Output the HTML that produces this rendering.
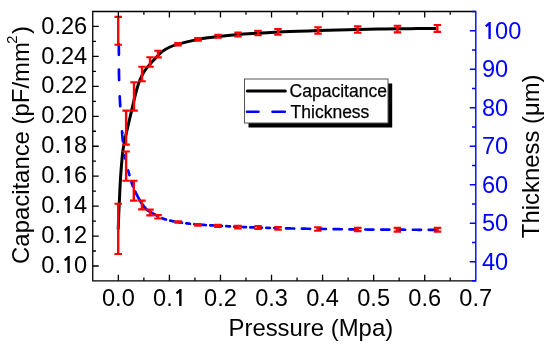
<!DOCTYPE html><html><head><meta charset="utf-8"><style>html,body{margin:0;padding:0;background:#fff;}svg{display:block;}</style></head><body>
<svg width="550" height="348" viewBox="0 0 550 348" font-family='"Liberation Sans", Arial, sans-serif'>
<rect x="0" y="0" width="550" height="348" fill="#fff"/>
<path d="M118.20,229.50 C118.33,225.67 118.44,221.95 118.60,218.00 C118.77,213.80 119.00,209.33 119.20,205.00 C119.40,200.67 119.60,196.25 119.80,192.00 C120.00,187.92 120.14,184.22 120.40,180.00 C120.69,175.28 121.07,170.00 121.50,165.00 C121.93,160.00 122.27,154.98 123.00,150.00 C123.73,144.98 124.84,139.99 125.90,135.00 C126.97,129.99 128.23,125.00 129.40,120.00 C130.57,115.00 131.70,110.00 132.90,105.00 C134.10,100.00 135.34,94.41 136.60,90.00 C137.61,86.45 138.42,83.60 139.70,80.50 C141.01,77.33 142.60,74.00 144.40,71.20 C146.07,68.61 148.07,66.45 150.00,64.20 C151.90,61.98 153.90,59.90 155.90,57.80 C157.90,55.70 159.69,53.38 162.00,51.60 C164.38,49.76 167.27,48.25 170.00,47.00 C172.61,45.80 175.17,45.06 178.00,44.20 C181.13,43.25 184.66,42.40 188.00,41.60 C191.33,40.80 194.66,40.03 198.00,39.40 C201.32,38.77 204.66,38.28 208.00,37.80 C211.33,37.32 214.66,36.90 218.00,36.50 C221.33,36.10 224.67,35.73 228.00,35.40 C231.33,35.07 234.09,34.80 238.00,34.50 C243.52,34.07 251.33,33.62 258.00,33.20 C264.67,32.78 271.33,32.33 278.00,32.00 C284.67,31.67 291.33,31.43 298.00,31.20 C304.67,30.97 311.33,30.80 318.00,30.60 C324.67,30.40 331.33,30.18 338.00,30.00 C344.67,29.82 351.33,29.65 358.00,29.50 C364.67,29.35 371.33,29.22 378.00,29.10 C384.67,28.98 391.42,28.88 398.00,28.80 C404.41,28.72 410.67,28.65 417.00,28.60 C423.33,28.55 429.67,28.53 436.00,28.50" fill="none" stroke="#000" stroke-width="3" stroke-linejoin="round"/>
<path d="M118.79,44.20 L118.79,44.28 L118.79,44.52 L118.80,44.76 L118.80,45.00 L118.80,45.25 L118.81,45.49 L118.81,45.74 L118.82,45.99 L118.82,46.24 L118.82,46.48 L118.83,46.73 L118.83,46.98 L118.83,47.23 L118.83,47.48 L118.84,47.72 L118.84,47.97 L118.84,48.22 L118.84,48.47 L118.85,48.72 L118.85,48.97 L118.85,49.22 L118.85,49.47 L118.85,49.72 L118.86,49.97 L118.86,50.22 L118.86,50.47 L118.86,50.72 L118.86,50.97 L118.86,51.22 L118.87,51.47 L118.87,51.72 L118.87,51.97 L118.87,52.22 L118.87,52.47 L118.87,52.73 L118.87,52.98 L118.87,53.23 L118.87,53.48 L118.87,53.73 L118.88,53.98 L118.88,54.23 L118.88,54.48 L118.88,54.73 L118.88,54.80 M118.94,69.60 L118.94,69.83 L118.94,70.08 L118.94,70.33 L118.94,70.58 L118.95,70.83 L118.95,71.08 L118.95,71.33 L118.95,71.57 L118.96,71.82 L118.96,72.07 L118.96,72.32 L118.96,72.56 L118.97,72.81 L118.97,73.05 L118.97,73.30 L118.98,73.54 L118.98,73.79 L118.98,74.03 L118.99,74.27 L118.99,74.52 L119.00,74.76 L119.00,75.00 L119.00,75.22 L119.01,75.45 L119.01,75.67 L119.02,75.89 L119.02,76.12 L119.03,76.34 L119.03,76.56 L119.04,76.78 L119.04,77.01 L119.05,77.23 L119.05,77.45 L119.06,77.67 L119.06,77.89 L119.07,78.11 L119.08,78.33 L119.08,78.55 L119.09,78.77 L119.09,78.99 L119.10,79.20 L119.11,79.42 L119.11,79.64 L119.12,79.86 L119.13,80.08 L119.13,80.10 M119.73,96.40 L119.73,96.42 L119.74,96.61 L119.75,96.81 L119.76,97.01 L119.77,97.21 L119.78,97.41 L119.79,97.61 L119.79,97.81 L119.80,98.01 L119.81,98.20 L119.82,98.40 L119.83,98.60 L119.84,98.80 L119.85,99.00 L119.86,99.20 L119.87,99.40 L119.88,99.60 L119.89,99.80 L119.90,100.00 L119.91,100.20 L119.92,100.40 L119.93,100.60 L119.94,100.80 L119.95,101.00 L119.96,101.20 L119.97,101.40 L119.98,101.60 L119.99,101.80 L120.00,101.99 L120.01,102.19 L120.02,102.39 L120.03,102.59 L120.04,102.79 L120.05,102.99 L120.07,103.19 L120.08,103.39 L120.09,103.59 L120.10,103.78 L120.11,103.98 L120.12,104.18 L120.13,104.38 L120.14,104.58 L120.15,104.78 L120.16,104.98 L120.18,105.18 L120.19,105.37 L120.20,105.57 L120.21,105.77 L120.22,105.97 L120.23,106.17 L120.24,106.20 M122.05,131.30 L122.05,131.32 L122.06,131.50 L122.07,131.68 L122.09,131.86 L122.10,132.04 L122.11,132.23 L122.13,132.41 L122.14,132.59 L122.15,132.77 L122.17,132.95 L122.18,133.13 L122.19,133.31 L122.21,133.49 L122.22,133.67 L122.23,133.85 L122.25,134.03 L122.26,134.21 L122.27,134.39 L122.29,134.57 L122.30,134.75 L122.31,134.93 L122.33,135.10 L122.34,135.28 L122.36,135.46 L122.37,135.64 L122.39,135.82 L122.40,136.00 L122.41,136.17 L122.43,136.34 L122.44,136.51 L122.46,136.68 L122.47,136.85 L122.48,137.02 L122.50,137.19 L122.51,137.36 L122.53,137.53 L122.54,137.70 L122.55,137.87 L122.57,138.04 L122.58,138.21 L122.60,138.38 L122.61,138.55 L122.63,138.72 L122.64,138.88 L122.66,139.05 L122.67,139.22 L122.68,139.39 L122.70,139.56 L122.71,139.73 L122.73,139.89 L122.74,140.06 L122.76,140.23 L122.77,140.40 L122.79,140.56 L122.80,140.73 L122.82,140.90 L122.83,141.06 L122.85,141.23 L122.85,141.30 M124.30,154.99 L124.30,155.00 L124.32,155.14 L124.34,155.28 L124.37,155.41 L124.39,155.55 L124.41,155.69 L124.43,155.83 L124.45,155.96 L124.48,156.10 L124.50,156.24 L124.52,156.37 L124.55,156.51 L124.57,156.65 L124.60,156.79 L124.62,156.92 L124.64,157.06 L124.67,157.19 L124.69,157.33 L124.72,157.47 L124.74,157.60 L124.77,157.74 L124.79,157.88 L124.82,158.01 L124.84,158.15 L124.87,158.28 L124.88,158.32 M128.08,170.45 L128.09,170.48 L128.12,170.61 L128.16,170.73 L128.20,170.86 L128.23,170.98 L128.27,171.11 L128.31,171.23 L128.35,171.36 L128.38,171.49 L128.42,171.61 L128.46,171.74 L128.49,171.87 L128.53,172.00 L128.57,172.12 L128.61,172.25 L128.64,172.38 L128.68,172.51 L128.72,172.64 L128.76,172.76 L128.79,172.89 L128.83,173.02 L128.87,173.15 L128.91,173.28 L128.95,173.40 L128.98,173.53 L129.02,173.66 L129.06,173.79 L129.10,173.92 L129.13,174.04 L129.17,174.17 L129.21,174.30 L129.24,174.42 L129.28,174.55 L129.32,174.68 L129.36,174.80 L129.39,174.93 L129.43,175.05 M131.38,181.75 L131.38,181.76 L131.41,181.86 L131.44,181.95 L131.47,182.04 L131.50,182.14 L131.52,182.23 L131.55,182.33 L131.58,182.42 L131.61,182.52 L131.64,182.61 L131.67,182.71 L131.70,182.80 L131.73,182.89 L131.76,182.98 L131.79,183.08 L131.81,183.17 L131.84,183.26 L131.87,183.35 L131.90,183.44 L131.93,183.54 L131.96,183.63 L131.98,183.72 L132.01,183.81 L132.04,183.91 L132.07,184.00 L132.10,184.09 L132.13,184.18 L132.15,184.27 L132.18,184.37 L132.21,184.46 L132.24,184.55 L132.27,184.64 L132.30,184.73 L132.32,184.83 L132.35,184.92 L132.38,185.01 L132.41,185.10 L132.44,185.19 L132.47,185.28 L132.50,185.38 L132.53,185.47 L132.55,185.56 L132.58,185.65 L132.61,185.74 L132.64,185.83 L132.67,185.92 L132.70,186.01 L132.73,186.10 L132.76,186.19 L132.79,186.28 L132.82,186.37 M135.10,191.46 L135.12,191.48 L135.16,191.56 L135.19,191.63 L135.23,191.70 L135.27,191.78 L135.31,191.85 L135.35,191.92 L135.39,192.00 L135.43,192.07 L135.47,192.15 L135.50,192.22 L135.54,192.30 L135.58,192.37 L135.62,192.45 L135.66,192.52 L135.70,192.60 L135.74,192.69 L135.79,192.77 L135.83,192.86 L135.88,192.95 L135.92,193.03 L135.97,193.12 L136.01,193.21 L136.06,193.30 L136.10,193.39 L136.15,193.48 L136.20,193.57 L136.24,193.66 L136.29,193.76 L136.34,193.85 L136.38,193.94 L136.43,194.03 L136.48,194.12 L136.53,194.22 L136.57,194.31 L136.62,194.40 L136.67,194.50 L136.72,194.59 L136.76,194.68 L136.81,194.78 L136.86,194.87 L136.91,194.96 L136.96,195.06 L137.01,195.15 L137.05,195.24 L137.10,195.34 L137.15,195.43 L137.20,195.52 L137.25,195.62 L137.30,195.71 L137.34,195.80 L137.39,195.90 L137.44,195.99 L137.49,196.08 L137.54,196.17 L137.58,196.26 L137.63,196.35 L137.68,196.45 L137.73,196.54 L137.77,196.63 L137.82,196.72 L137.87,196.81 L137.91,196.89 L137.96,196.98 L138.01,197.07 L138.05,197.16 L138.10,197.25 L138.14,197.33 L138.19,197.42 L138.23,197.50 L138.28,197.59 L138.32,197.67 L138.37,197.75 L138.41,197.84 L138.46,197.92 L138.50,198.00 L138.54,198.07 L138.57,198.13 L138.61,198.20 L138.64,198.26 L138.68,198.33 L138.71,198.39 L138.74,198.46 L138.78,198.52 L138.81,198.59 L138.85,198.65 L138.88,198.71 L138.91,198.78 L138.95,198.84 L138.98,198.90 L139.01,198.97 L139.05,199.03 L139.08,199.09 L139.11,199.15 L139.15,199.22 L139.18,199.28 L139.21,199.34 L139.25,199.40 L139.28,199.46 L139.31,199.52 L139.34,199.58 L139.38,199.64 L139.41,199.70 L139.44,199.76 L139.47,199.82 L139.50,199.88 L139.54,199.94 L139.57,200.00 L139.60,200.06 L139.63,200.12 L139.67,200.18 L139.70,200.24 L139.73,200.30 L139.76,200.35 L139.80,200.41 L139.83,200.47 L139.86,200.53 L139.89,200.59 L139.93,200.64 L139.96,200.70 L139.99,200.76 L140.03,200.81 L140.06,200.87 L140.09,200.93 L140.13,200.98 L140.16,201.04 L140.19,201.10 L140.23,201.15 L140.26,201.21 L140.29,201.27 L140.33,201.32 L140.36,201.38 L140.40,201.43 L140.43,201.49 L140.47,201.54 L140.50,201.60 L140.53,201.65 L140.56,201.70 L140.60,201.75 L140.63,201.80 L140.66,201.85 L140.69,201.90 L140.73,201.95 L140.76,202.00 L140.79,202.05 L140.82,202.10 L140.86,202.14 L140.89,202.19 L140.92,202.24 L140.95,202.29 L140.99,202.34 L141.02,202.38 L141.05,202.43 L141.09,202.48 L141.12,202.53 L141.15,202.57 L141.19,202.62 L141.22,202.67 L141.25,202.71 L141.29,202.76 L141.32,202.81 L141.35,202.85 L141.39,202.90 L141.42,202.95 L141.45,202.99 L141.49,203.04 L141.52,203.08 L141.55,203.13 L141.59,203.18 L141.62,203.22 L141.65,203.27 L141.69,203.31 L141.72,203.36 L141.76,203.40 L141.79,203.45 L141.82,203.49 L141.86,203.54 L141.89,203.58 L141.93,203.63 L141.96,203.68 L141.99,203.72 L142.03,203.77 L142.06,203.81 L142.09,203.86 L142.13,203.90 L142.16,203.95 L142.20,203.99 L142.23,204.04 L142.26,204.08 L142.30,204.13 L142.33,204.17 L142.36,204.22 L142.40,204.26 L142.43,204.31 L142.47,204.35 L142.50,204.40 L142.53,204.44 L142.57,204.49 L142.60,204.53 L142.63,204.58 L142.66,204.62 L142.70,204.67 L142.73,204.71 L142.76,204.75 L142.79,204.80 L142.83,204.84 L142.86,204.88 L142.89,204.93 L142.92,204.97 L142.96,205.02 L142.99,205.06 L143.02,205.10 L143.05,205.15 L143.09,205.19 L143.12,205.23 L143.15,205.28 L143.18,205.32 L143.22,205.36 L143.25,205.41 L143.28,205.45 L143.31,205.49 L143.35,205.53 L143.38,205.58 L143.41,205.62 L143.44,205.66 L143.48,205.71 L143.51,205.75 L143.54,205.79 L143.58,205.84 L143.61,205.88 L143.64,205.92 L143.67,205.97 L143.71,206.01 L143.74,206.05 L143.77,206.09 L143.81,206.14 L143.84,206.18 L143.87,206.22 L143.91,206.27 L143.94,206.31 L143.98,206.35 L144.01,206.39 L144.04,206.44 L144.08,206.48 L144.11,206.52 L144.15,206.57 L144.18,206.61 L144.22,206.65 L144.25,206.70 L144.29,206.74 L144.32,206.78 L144.36,206.83 L144.39,206.87 L144.43,206.91 L144.46,206.96 L144.50,207.00 L144.54,207.05 L144.58,207.09 L144.62,207.14 L144.65,207.19 L144.69,207.23 L144.73,207.28 L144.77,207.33 L144.81,207.38 L144.85,207.43 L144.89,207.47 L144.93,207.52 L144.97,207.57 L145.01,207.62 L145.05,207.67 L145.08,207.71 L145.12,207.76 L145.16,207.81 L145.20,207.86 L145.24,207.91 L145.28,207.96 L145.32,208.01 L145.36,208.05 L145.40,208.10 L145.44,208.15 L145.48,208.20 L145.53,208.25 L145.57,208.30 L145.61,208.35 L145.65,208.39 L145.69,208.44 L145.73,208.49 L145.77,208.54 L145.81,208.59 L145.85,208.63 L145.90,208.68 L145.94,208.73 L145.98,208.78 L146.02,208.82 L146.07,208.87 L146.11,208.92 L146.15,208.96 L146.19,209.01 L146.24,209.06 L146.28,209.10 L146.32,209.15 L146.37,209.19 L146.41,209.24 L146.46,209.28 L146.50,209.33 L146.54,209.37 L146.59,209.42 L146.63,209.46 L146.68,209.50 L146.72,209.55 L146.77,209.59 L146.82,209.63 L146.86,209.68 L146.91,209.72 L146.95,209.76 L147.00,209.80 L147.05,209.84 L147.09,209.88 L147.14,209.92 L147.19,209.96 L147.24,210.00 L147.28,210.04 L147.33,210.08 L147.38,210.12 L147.43,210.15 L147.48,210.19 L147.53,210.23 L147.57,210.27 L147.62,210.30 L147.67,210.34 L147.72,210.38 L147.77,210.41 L147.82,210.45 L147.87,210.49 L147.92,210.52 L147.97,210.56 L148.02,210.59 L148.07,210.63 L148.12,210.66 L148.17,210.70 L148.23,210.73 L148.28,210.77 L148.33,210.80 L148.38,210.84 L148.43,210.87 L148.48,210.90 L148.54,210.94 L148.59,210.97 L148.64,211.00 L148.69,211.04 L148.74,211.07 L148.80,211.11 L148.85,211.14 L148.90,211.17 L148.96,211.20 L149.01,211.24 L149.06,211.27 L149.12,211.30 L149.17,211.34 L149.22,211.37 L149.28,211.40 L149.33,211.44 L149.39,211.47 L149.44,211.50 L149.49,211.53 L149.55,211.57 L149.60,211.60 L149.66,211.63 L149.71,211.67 L149.77,211.70 L149.82,211.73 L149.88,211.77 L149.93,211.80 L149.99,211.83 L150.04,211.87 L150.10,211.90 L150.16,211.94 L150.22,211.97 L150.28,212.01 L150.34,212.05 L150.41,212.08 L150.47,212.12 L150.53,212.15 L150.59,212.19 L150.65,212.22 L150.72,212.26 L150.78,212.30 L150.84,212.33 L150.91,212.37 L150.97,212.40 L151.03,212.44 L151.10,212.47 L151.16,212.51 L151.23,212.54 L151.29,212.58 L151.36,212.61 L151.42,212.65 L151.49,212.68 L151.55,212.72 L151.62,212.75 L151.68,212.79 L151.75,212.82 L151.81,212.86 L151.88,212.89 L151.94,212.92 L152.01,212.96 L152.08,212.99 L152.14,213.03 L152.21,213.06 L152.27,213.10 L152.34,213.13 L152.41,213.17 L152.47,213.20 L152.54,213.23 L152.61,213.27 L152.67,213.30 L152.74,213.34 L152.81,213.37 L152.87,213.41 L152.94,213.44 L153.01,213.48 L153.07,213.51 L153.14,213.55 L153.20,213.58 L153.27,213.61 L153.34,213.65 L153.40,213.68 L153.47,213.72 L153.54,213.75 L153.60,213.79 L153.67,213.82 L153.74,213.86 L153.80,213.89 L153.87,213.93 L153.93,213.96 L154.00,214.00 L154.07,214.04 L154.13,214.07 L154.20,214.11 L154.27,214.15 L154.34,214.18 L154.40,214.22 L154.47,214.25 L154.54,214.29 L154.61,214.33 L154.67,214.36 L154.74,214.40 L154.81,214.44 L154.87,214.47 L154.94,214.51 L155.01,214.55 L155.08,214.58 L155.14,214.62 L155.21,214.66 L155.28,214.69 L155.34,214.73 L155.41,214.77 L155.48,214.80 L155.55,214.84 L155.61,214.88 L155.68,214.91 L155.75,214.95 L155.82,214.99 L155.88,215.02 L155.95,215.06 L156.02,215.10 L156.09,215.13 L156.15,215.17 L156.22,215.21 L156.29,215.24 L156.36,215.28 L156.43,215.32 L156.49,215.35 L156.56,215.39 L156.63,215.43 L156.70,215.46 L156.77,215.50 L156.84,215.54 L156.91,215.57 L156.97,215.61 L157.04,215.65 L157.11,215.68 L157.18,215.72 L157.23,215.75 M162.19,218.26 L162.25,218.29 L162.33,218.32 L162.42,218.36 L162.50,218.40 L162.58,218.43 L162.67,218.47 L162.75,218.50 L162.83,218.53 L162.92,218.57 L163.00,218.60 L163.08,218.63 L163.16,218.66 L163.24,218.69 L163.32,218.72 L163.40,218.75 L163.48,218.78 L163.56,218.81 L163.64,218.84 L163.72,218.87 L163.80,218.90 L163.88,218.93 L163.96,218.95 L164.04,218.98 L164.12,219.01 L164.19,219.04 L164.27,219.06 L164.35,219.09 L164.43,219.11 L164.51,219.14 L164.58,219.16 L164.66,219.19 L164.74,219.21 L164.82,219.24 L164.90,219.26 L164.98,219.29 L165.06,219.31 L165.14,219.34 L165.22,219.36 L165.29,219.38 L165.37,219.41 L165.46,219.43 L165.54,219.45 L165.62,219.48 L165.70,219.50 L165.78,219.52 L165.86,219.54 L165.94,219.57 M170.27,220.63 L170.41,220.66 L170.58,220.69 L170.74,220.73 L170.91,220.76 L171.07,220.80 L171.24,220.83 L171.41,220.87 L171.58,220.90 L171.74,220.94 L171.92,220.97 L172.09,221.01 L172.26,221.04 L172.43,221.08 L172.60,221.11 L172.78,221.14 L172.95,221.18 L173.13,221.21 L173.30,221.25 L173.48,221.28 L173.65,221.31 L173.83,221.35 L173.92,221.37 M178.28,222.15 L178.33,222.16 L178.50,222.18 L178.67,222.21 L178.83,222.24 L179.00,222.27 L179.16,222.29 L179.33,222.32 L179.50,222.35 L179.66,222.37 L179.83,222.40 L180.00,222.42 L180.16,222.45 L180.33,222.48 L180.50,222.50 L180.66,222.53 L180.83,222.55 L181.00,222.58 L181.16,222.60 L181.33,222.63 L181.50,222.65 L181.66,222.67 L181.83,222.70 L181.91,222.71 M186.29,223.29 L186.33,223.30 L186.50,223.32 L186.67,223.34 L186.83,223.36 L187.00,223.38 L187.17,223.40 L187.33,223.42 L187.50,223.44 L187.67,223.46 L187.83,223.48 L188.00,223.50 L188.17,223.52 L188.33,223.54 L188.50,223.56 L188.67,223.58 L188.83,223.60 L189.00,223.62 L189.17,223.64 L189.33,223.66 L189.50,223.67 L189.67,223.69 L189.83,223.71 L189.91,223.72 M194.29,224.17 L194.33,224.17 L194.50,224.19 L194.66,224.20 L194.83,224.22 L195.00,224.23 L195.17,224.25 L195.33,224.27 L195.50,224.28 L195.67,224.30 L195.83,224.31 L196.00,224.33 L196.17,224.34 L196.33,224.36 L196.50,224.37 L196.67,224.38 L196.83,224.40 L197.00,224.41 L197.17,224.43 L197.33,224.44 L197.50,224.46 L197.67,224.47 L197.83,224.49 L197.90,224.49 M202.30,224.83 L202.33,224.83 L202.50,224.85 L202.67,224.86 L202.83,224.87 L203.00,224.88 L203.17,224.89 L203.33,224.90 L203.50,224.92 L203.67,224.93 L203.83,224.94 L204.00,224.95 L204.17,224.96 L204.33,224.97 L204.50,224.98 L204.67,224.99 L204.83,225.00 L205.00,225.01 L205.17,225.02 L205.33,225.04 L205.50,225.05 L205.67,225.06 L205.83,225.07 L205.90,225.07 M210.30,225.33 L210.42,225.33 L210.58,225.34 L210.73,225.35 L210.89,225.36 L211.05,225.37 L211.21,225.37 L211.36,225.38 L211.52,225.39 L211.68,225.40 L211.83,225.40 L211.99,225.41 L212.15,225.42 L212.31,225.43 L212.47,225.43 L212.63,225.44 L212.79,225.45 L212.95,225.46 L213.11,225.46 L213.27,225.47 L213.43,225.48 L213.59,225.49 L213.75,225.49 L213.90,225.50 M218.30,225.72 L218.56,225.73 L218.85,225.74 L219.13,225.76 L219.43,225.78 L219.72,225.79 L220.02,225.81 L220.32,225.83 L220.63,225.84 L220.94,225.86 L221.25,225.88 L221.56,225.90 L221.88,225.91 L221.90,225.91 M226.30,226.17 L226.53,226.18 L226.88,226.20 L227.22,226.22 L227.57,226.24 L227.92,226.26 L228.27,226.28 L228.62,226.30 L228.97,226.32 L229.32,226.34 L229.67,226.36 L229.90,226.37 M234.30,226.61 L234.59,226.63 L234.93,226.65 L235.28,226.66 L235.63,226.68 L235.97,226.70 L236.31,226.72 L236.65,226.73 L236.99,226.75 L237.33,226.77 L237.67,226.78 L237.90,226.80 M242.30,227.00 L242.33,227.00 L242.67,227.01 L243.00,227.03 L243.33,227.04 L243.67,227.05 L244.00,227.07 L244.33,227.08 L244.67,227.10 L245.00,227.11 L245.33,227.12 L245.67,227.14 L245.90,227.15 M250.30,227.32 L250.33,227.32 L250.67,227.33 L251.00,227.35 L251.33,227.36 L251.67,227.37 L252.00,227.38 L252.33,227.40 L252.67,227.41 L253.00,227.42 L253.33,227.43 L253.67,227.45 L253.90,227.45 M258.30,227.61 L258.33,227.61 L258.67,227.62 L259.00,227.63 L259.33,227.65 L259.67,227.66 L260.00,227.67 L260.33,227.68 L260.67,227.69 L261.00,227.70 L261.33,227.71 L261.67,227.72 L261.90,227.73 M266.30,227.87 L266.33,227.87 L266.67,227.88 L267.00,227.89 L267.33,227.90 L267.67,227.91 L268.00,227.92 L268.33,227.93 L268.67,227.94 L269.00,227.95 L269.33,227.96 L269.67,227.97 L269.90,227.98 M274.30,228.10 L274.33,228.10 L274.67,228.11 L275.00,228.12 L275.33,228.13 L275.67,228.14 L276.00,228.15 L276.33,228.16 L276.67,228.17 L277.00,228.17 L277.33,228.18 L277.67,228.19 L277.90,228.20 M286.10,228.38 L286.33,228.39 L286.67,228.39 L287.00,228.40 L287.33,228.41 L287.67,228.41 L288.00,228.42 L288.33,228.43 L288.67,228.43 L289.00,228.44 L289.33,228.44 L289.67,228.45 L290.00,228.46 L290.33,228.46 L290.67,228.47 L291.00,228.48 L291.33,228.48 L291.67,228.49 L292.00,228.49 L292.33,228.50 L292.67,228.51 L293.00,228.51 L293.33,228.52 L293.67,228.52 L294.00,228.53 L294.20,228.53 M301.95,228.67 L302.00,228.67 L302.33,228.67 L302.67,228.68 L303.00,228.68 L303.33,228.69 L303.67,228.69 L304.00,228.70 L304.33,228.70 L304.67,228.71 L305.00,228.71 L305.33,228.72 L305.67,228.72 L306.00,228.73 L306.33,228.73 L306.67,228.74 L307.00,228.74 L307.33,228.75 L307.67,228.75 L308.00,228.76 L308.33,228.76 L308.67,228.77 L309.00,228.77 L309.33,228.78 L309.67,228.78 L310.00,228.78 L310.05,228.79 M317.80,228.90 L318.00,228.90 L318.33,228.91 L318.67,228.91 L319.00,228.92 L319.33,228.92 L319.67,228.93 L320.00,228.93 L320.33,228.94 L320.67,228.94 L321.00,228.95 L321.33,228.95 L321.67,228.96 L322.00,228.96 L322.33,228.97 L322.67,228.97 L323.00,228.98 L323.33,228.98 L323.67,228.99 L324.00,228.99 L324.33,229.00 L324.67,229.00 L325.00,229.01 L325.33,229.01 L325.67,229.02 L325.90,229.02 M333.65,229.14 L333.67,229.14 L334.00,229.14 L334.33,229.15 L334.67,229.15 L335.00,229.16 L335.33,229.16 L335.67,229.17 L336.00,229.17 L336.33,229.18 L336.67,229.18 L337.00,229.19 L337.33,229.19 L337.67,229.20 L338.00,229.20 L338.33,229.20 L338.67,229.21 L339.00,229.21 L339.33,229.22 L339.67,229.22 L340.00,229.23 L340.33,229.23 L340.67,229.24 L341.00,229.24 L341.33,229.25 L341.67,229.25 L341.75,229.25 M349.50,229.35 L349.67,229.36 L350.00,229.36 L350.33,229.36 L350.67,229.37 L351.00,229.37 L351.33,229.38 L351.67,229.38 L352.00,229.38 L352.33,229.39 L352.67,229.39 L353.00,229.40 L353.33,229.40 L353.67,229.40 L354.00,229.41 L354.33,229.41 L354.67,229.41 L355.00,229.42 L355.33,229.42 L355.67,229.43 L356.00,229.43 L356.33,229.43 L356.67,229.44 L357.00,229.44 L357.33,229.44 L357.60,229.45 M365.35,229.51 L365.67,229.52 L366.00,229.52 L366.33,229.52 L366.67,229.52 L367.00,229.53 L367.33,229.53 L367.67,229.53 L368.00,229.53 L368.33,229.54 L368.67,229.54 L369.00,229.54 L369.33,229.54 L369.67,229.55 L370.00,229.55 L370.33,229.55 L370.67,229.55 L371.00,229.56 L371.33,229.56 L371.67,229.56 L372.00,229.56 L372.33,229.56 L372.67,229.57 L373.00,229.57 L373.33,229.57 L373.45,229.57 M381.20,229.62 L381.26,229.62 L381.57,229.62 L381.89,229.62 L382.21,229.62 L382.53,229.63 L382.84,229.63 L383.16,229.63 L383.47,229.63 L383.79,229.63 L384.10,229.64 L384.42,229.64 L384.73,229.64 L385.05,229.64 L385.36,229.64 L385.68,229.64 L385.99,229.64 L386.31,229.65 L386.62,229.65 L386.94,229.65 L387.26,229.65 L387.58,229.65 L387.90,229.65 L388.22,229.66 L388.54,229.66 L388.86,229.66 L389.19,229.66 L389.30,229.66 M397.05,229.70 L397.23,229.70 L397.61,229.70 L398.00,229.70 L398.55,229.70 L399.11,229.70 L399.67,229.71 L400.25,229.71 L400.83,229.71 L401.41,229.71 L402.00,229.72 L402.60,229.72 L403.20,229.72 L403.81,229.72 L404.43,229.73 L405.05,229.73 L405.15,229.73 M412.90,229.76 L413.51,229.76 L414.19,229.76 L414.87,229.77 L415.55,229.77 L416.23,229.77 L416.92,229.77 L417.60,229.78 L418.29,229.78 L418.98,229.78 L419.68,229.78 L420.37,229.79 L421.00,229.79 M428.75,229.82 L429.39,229.82 L430.08,229.82 L430.76,229.82 L431.45,229.83 L432.13,229.83 L432.81,229.83 L433.49,229.83 L434.17,229.84 L434.84,229.84 L435.51,229.84 L436.18,229.84 L436.30,229.85" fill="none" stroke="#0000ff" stroke-width="2.7" stroke-linecap="round" stroke-linejoin="round"/>
<path d="M118.20,203.80V254.00M126.10,110.60V144.60M134.00,82.30V110.60M142.00,66.80V81.20M150.00,57.20V66.80M158.00,50.80V57.40M178.00,43.10V45.40M198.00,38.00V40.60M218.05,34.90V37.80M238.00,32.60V36.35M258.00,30.90V35.20M277.95,29.00V34.70M318.00,27.30V33.60M357.65,26.35V32.70M397.50,25.75V32.35M437.35,25.00V31.90M118.20,16.90V44.70M126.10,151.50V180.80M133.80,180.80V200.60M141.90,200.60V209.40M150.00,209.60V215.40M158.00,215.10V218.50M178.10,221.30V222.80M198.00,224.10V225.80M218.00,224.90V226.90M237.95,225.90V228.50M258.05,226.00V228.90M278.05,227.00V229.60M317.80,227.30V230.80M357.80,227.90V231.10M397.40,227.90V231.60M437.50,227.90V231.60" stroke="#ff0000" stroke-width="2.4"/>
<path d="M114.45,203.80H121.95M114.45,254.00H121.95M122.35,110.60H129.85M122.35,144.60H129.85M130.25,82.30H137.75M130.25,110.60H137.75M138.25,66.80H145.75M138.25,81.20H145.75M146.25,57.20H153.75M146.25,66.80H153.75M154.25,50.80H161.75M154.25,57.40H161.75M174.25,43.10H181.75M174.25,45.40H181.75M194.25,38.00H201.75M194.25,40.60H201.75M214.30,34.90H221.80M214.30,37.80H221.80M234.25,32.60H241.75M234.25,36.35H241.75M254.25,30.90H261.75M254.25,35.20H261.75M274.20,29.00H281.70M274.20,34.70H281.70M314.25,27.30H321.75M314.25,33.60H321.75M353.90,26.35H361.40M353.90,32.70H361.40M393.75,25.75H401.25M393.75,32.35H401.25M433.60,25.00H441.10M433.60,31.90H441.10M114.45,16.90H121.95M114.45,44.70H121.95M122.35,151.50H129.85M122.35,180.80H129.85M130.05,180.80H137.55M130.05,200.60H137.55M138.15,200.60H145.65M138.15,209.40H145.65M146.25,209.60H153.75M146.25,215.40H153.75M154.25,215.10H161.75M154.25,218.50H161.75M174.35,221.30H181.85M174.35,222.80H181.85M194.25,224.10H201.75M194.25,225.80H201.75M214.25,224.90H221.75M214.25,226.90H221.75M234.20,225.90H241.70M234.20,228.50H241.70M254.30,226.00H261.80M254.30,228.90H261.80M274.30,227.00H281.80M274.30,229.60H281.80M314.05,227.30H321.55M314.05,230.80H321.55M354.05,227.90H361.55M354.05,231.10H361.55M393.65,227.90H401.15M393.65,231.60H401.15M433.75,227.90H441.25M433.75,231.60H441.25" stroke="#ff0000" stroke-width="2.1"/>
<path d="M475.80,11.50H92.75V280.80H475.80" fill="none" stroke="#000" stroke-width="1.3"/>
<path d="M475.80,10.90V281.40" fill="none" stroke="#0000ff" stroke-width="1.4"/>
<path d="M118.35,280.80V274.80M118.35,11.50V17.50M143.88,280.80V277.60M143.88,11.50V14.70M169.41,280.80V274.80M169.41,11.50V17.50M194.94,280.80V277.60M194.94,11.50V14.70M220.47,280.80V274.80M220.47,11.50V17.50M246.00,280.80V277.60M246.00,11.50V14.70M271.53,280.80V274.80M271.53,11.50V17.50M297.06,280.80V277.60M297.06,11.50V14.70M322.59,280.80V274.80M322.59,11.50V17.50M348.12,280.80V277.60M348.12,11.50V14.70M373.65,280.80V274.80M373.65,11.50V17.50M399.18,280.80V277.60M399.18,11.50V14.70M424.71,280.80V274.80M424.71,11.50V17.50M450.24,280.80V277.60M450.24,11.50V14.70M92.75,265.99H98.75M92.75,251.02H95.95M92.75,236.05H98.75M92.75,221.08H95.95M92.75,206.11H98.75M92.75,191.14H95.95M92.75,176.17H98.75M92.75,161.20H95.95M92.75,146.23H98.75M92.75,131.26H95.95M92.75,116.29H98.75M92.75,101.32H95.95M92.75,86.35H98.75M92.75,71.38H95.95M92.75,56.41H98.75M92.75,41.44H95.95M92.75,26.47H98.75" stroke="#000" stroke-width="1.3"/>
<path d="M475.80,280.80H472.00M475.80,261.75H469.80M475.80,242.50H472.00M475.80,223.25H469.80M475.80,204.00H472.00M475.80,184.75H469.80M475.80,165.50H472.00M475.80,146.25H469.80M475.80,127.00H472.00M475.80,107.75H469.80M475.80,88.50H472.00M475.80,69.25H469.80M475.80,50.00H472.00M475.80,30.75H469.80M475.80,11.50H472.00" stroke="#0000ff" stroke-width="1.4"/>
<text y="273.09" font-size="23.6"><tspan x="41.27">0</tspan><tspan x="54.40">.</tspan><tspan x="61.26" font-family="NanumGothic, 'Liberation Sans', sans-serif" font-weight="bold" font-size="22.6">1</tspan><tspan x="74.08">0</tspan></text>
<text y="243.15" font-size="23.6"><tspan x="41.27">0</tspan><tspan x="54.40">.</tspan><tspan x="61.26" font-family="NanumGothic, 'Liberation Sans', sans-serif" font-weight="bold" font-size="22.6">1</tspan><tspan x="74.08">2</tspan></text>
<text y="213.21" font-size="23.6"><tspan x="41.27">0</tspan><tspan x="54.40">.</tspan><tspan x="61.26" font-family="NanumGothic, 'Liberation Sans', sans-serif" font-weight="bold" font-size="22.6">1</tspan><tspan x="74.08">4</tspan></text>
<text y="183.27" font-size="23.6"><tspan x="41.27">0</tspan><tspan x="54.40">.</tspan><tspan x="61.26" font-family="NanumGothic, 'Liberation Sans', sans-serif" font-weight="bold" font-size="22.6">1</tspan><tspan x="74.08">6</tspan></text>
<text y="153.33" font-size="23.6"><tspan x="41.27">0</tspan><tspan x="54.40">.</tspan><tspan x="61.26" font-family="NanumGothic, 'Liberation Sans', sans-serif" font-weight="bold" font-size="22.6">1</tspan><tspan x="74.08">8</tspan></text>
<text y="123.39" font-size="23.6"><tspan x="41.27">0</tspan><tspan x="54.40">.</tspan><tspan x="60.96">2</tspan><tspan x="74.08">0</tspan></text>
<text y="93.45" font-size="23.6"><tspan x="41.27">0</tspan><tspan x="54.40">.</tspan><tspan x="60.96">2</tspan><tspan x="74.08">2</tspan></text>
<text y="63.51" font-size="23.6"><tspan x="41.27">0</tspan><tspan x="54.40">.</tspan><tspan x="60.96">2</tspan><tspan x="74.08">4</tspan></text>
<text y="33.57" font-size="23.6"><tspan x="41.27">0</tspan><tspan x="54.40">.</tspan><tspan x="60.96">2</tspan><tspan x="74.08">6</tspan></text>
<text y="305.70" font-size="23.6"><tspan x="101.95">0</tspan><tspan x="115.07">.</tspan><tspan x="121.63">0</tspan></text>
<text y="305.70" font-size="23.6"><tspan x="153.01">0</tspan><tspan x="166.13">.</tspan><tspan x="172.99" font-family="NanumGothic, 'Liberation Sans', sans-serif" font-weight="bold" font-size="22.6">1</tspan></text>
<text y="305.70" font-size="23.6"><tspan x="204.07">0</tspan><tspan x="217.19">.</tspan><tspan x="223.75">2</tspan></text>
<text y="305.70" font-size="23.6"><tspan x="255.13">0</tspan><tspan x="268.25">.</tspan><tspan x="274.81">3</tspan></text>
<text y="305.70" font-size="23.6"><tspan x="306.19">0</tspan><tspan x="319.31">.</tspan><tspan x="325.87">4</tspan></text>
<text y="305.70" font-size="23.6"><tspan x="357.25">0</tspan><tspan x="370.37">.</tspan><tspan x="376.93">5</tspan></text>
<text y="305.70" font-size="23.6"><tspan x="408.31">0</tspan><tspan x="421.43">.</tspan><tspan x="427.99">6</tspan></text>
<text y="305.70" font-size="23.6"><tspan x="459.37">0</tspan><tspan x="472.49">.</tspan><tspan x="479.05">7</tspan></text>
<text y="269.55" font-size="23.6" fill="#0000ff"><tspan x="481.90">4</tspan><tspan x="495.02">0</tspan></text>
<text y="231.05" font-size="23.6" fill="#0000ff"><tspan x="481.90">5</tspan><tspan x="495.02">0</tspan></text>
<text y="192.55" font-size="23.6" fill="#0000ff"><tspan x="481.90">6</tspan><tspan x="495.02">0</tspan></text>
<text y="154.05" font-size="23.6" fill="#0000ff"><tspan x="481.90">7</tspan><tspan x="495.02">0</tspan></text>
<text y="115.55" font-size="23.6" fill="#0000ff"><tspan x="481.90">8</tspan><tspan x="495.02">0</tspan></text>
<text y="77.05" font-size="23.6" fill="#0000ff"><tspan x="481.90">9</tspan><tspan x="495.02">0</tspan></text>
<text y="38.55" font-size="23.6" fill="#0000ff"><tspan x="482.20" font-family="NanumGothic, 'Liberation Sans', sans-serif" font-weight="bold" font-size="22.6">1</tspan><tspan x="495.02">0</tspan><tspan x="508.14">0</tspan></text>
<text x="228.5" y="336" font-size="23.9">Pressure (Mpa)</text>
<text transform="translate(28.8,263.9) rotate(-90)" font-size="23.9">Capacitance (pF/mm<tspan font-size="14.8" dx="-1.5" dy="-11.5">2</tspan><tspan dx="1.5" dy="11.5">)</tspan></text>
<text transform="translate(538.8,238.2) rotate(-90)" font-size="23.9">Thickness (μm)</text>
<rect x="248.5" y="83.5" width="143.7" height="44" fill="#000"/>
<rect x="244.5" y="79" width="143.5" height="44" fill="#fff" stroke="#555" stroke-width="1"/>
<path d="M247.3,91.1H285.3" stroke="#000" stroke-width="3" stroke-linecap="round"/>
<path d="M247,111.8H258.5M272.5,111.8H284.8" stroke="#0000ff" stroke-width="2.6" stroke-linecap="round"/>
<text x="289.6" y="96.6" font-size="17.5" stroke="#000" stroke-width="0.25">Capacitance</text>
<text x="290.6" y="117.6" font-size="17.5" stroke="#000" stroke-width="0.25">Thickness</text>
</svg></body></html>
